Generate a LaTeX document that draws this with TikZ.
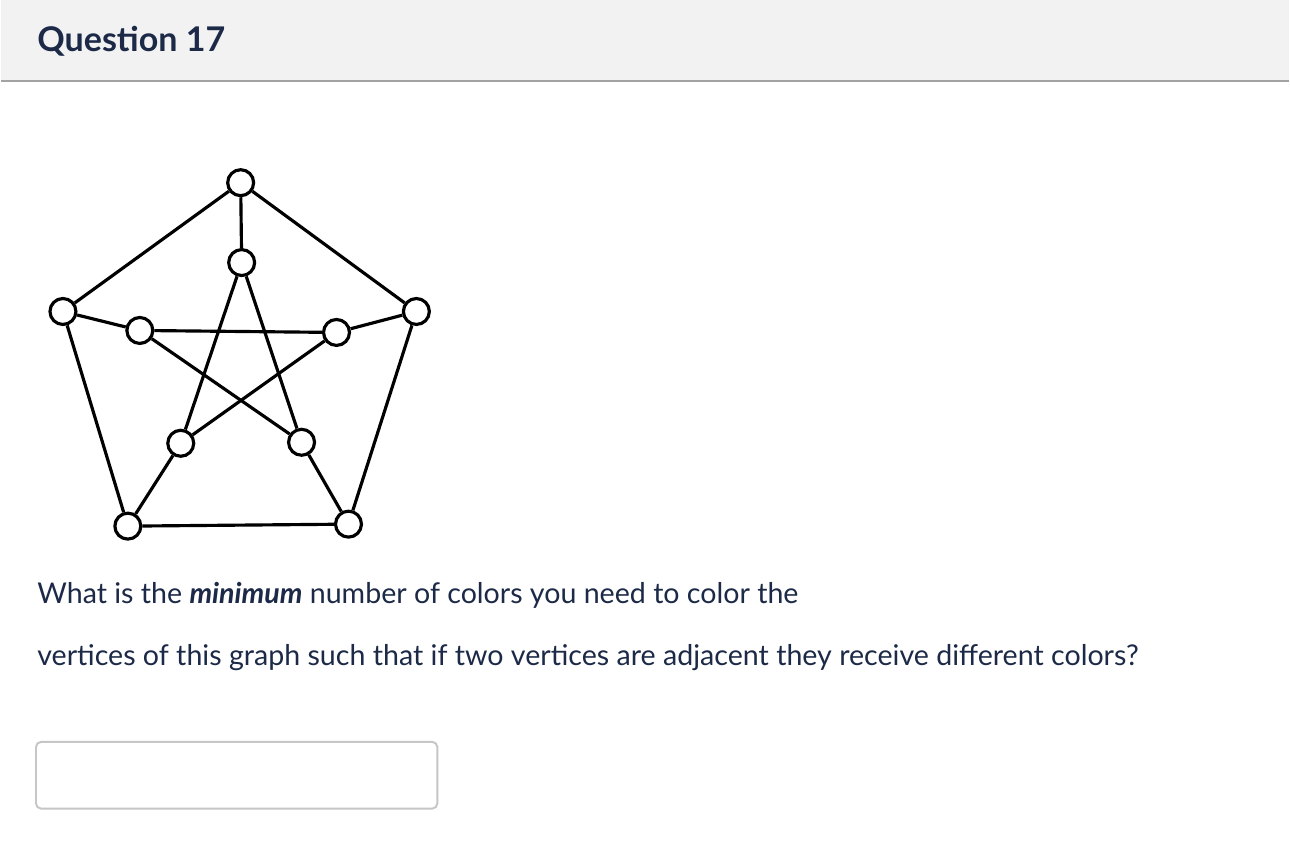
\documentclass[tikz,border=0pt]{standalone}
\usepackage{fontspec}
\setmainfont{Lato}
\definecolor{qtext}{HTML}{1C2A48}
\definecolor{headbg}{HTML}{F2F2F2}
\definecolor{headrule}{HTML}{A3A3A3}
\definecolor{boxline}{HTML}{C6C6C6}

\begin{document}
\begin{tikzpicture}[x=0.02cm, y=-0.02cm]

    %styles
    \tikzstyle{vertex}=[circle, draw=black, fill=white, line width=1.8pt, minimum size=0.52cm, inner sep=0pt]
    \tikzstyle{edge}=[black, line width=1.8pt]
    \tikzstyle{qtitle}=[anchor=base west, inner sep=0pt, text=qtext, font=\fontsize{19.4pt}{24pt}\selectfont\bfseries]
    \tikzstyle{qbody}=[anchor=base west, inner sep=0pt, text=qtext, font=\fontsize{16.3pt}{19pt}\selectfont]

    % page and header
    \fill[white] (0,0) rectangle (1290,854);
    \fill[headbg] (0,0) rectangle (1290,80);
    \draw[headrule, line width=1.2pt] (0,81) -- (1290,81);
    \node[qtitle] (title) at (36,52) {Question 17};

    % nodes
    \node[vertex] (o1) at (240,183) {};
    \node[vertex] (o2) at (416,312) {};
    \node[vertex] (o3) at (348,525) {};
    \node[vertex] (o4) at (127,527) {};
    \node[vertex] (o5) at (62,312) {};
    \node[vertex] (i1) at (241,263) {};
    \node[vertex] (i2) at (336,333) {};
    \node[vertex] (i3) at (301,443) {};
    \node[vertex] (i4) at (180,444) {};
    \node[vertex] (i5) at (139,331) {};

    % edges
    \draw[edge] (o1) -- (o2) -- (o3) -- (o4) -- (o5) -- (o1);
    \draw[edge] (o1) -- (i1);
    \draw[edge] (o2) -- (i2);
    \draw[edge] (o3) -- (i3);
    \draw[edge] (o4) -- (i4);
    \draw[edge] (o5) -- (i5);
    \draw[edge] (i1) -- (i3);
    \draw[edge] (i1) -- (i4);
    \draw[edge] (i5) -- (i2);
    \draw[edge] (i5) -- (i3);
    \draw[edge] (i2) -- (i4);

    % question text
    \node[qbody] (line1) at (36,604) {What is the \textbf{\textit{minimum}} number of colors you need to color the};
    \node[qbody] (line2) at (36,667) {vertices of this graph such that if two vertices are adjacent they receive different colors?};

    % answer box
    \draw[boxline, line width=1.1pt, rounded corners=3pt] (35,743) rectangle (437,810);
\end{tikzpicture}
\end{document}
